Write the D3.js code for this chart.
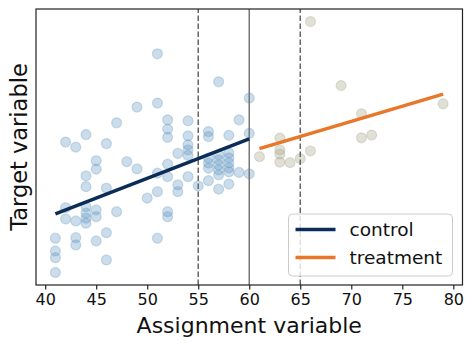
<!DOCTYPE html>
<html>
<head>
<meta charset="utf-8">
<script src="https://cdn.jsdelivr.net/npm/d3@7"></script>
<style>
  html, body { margin: 0; padding: 0; background: #fff; }
  svg { display: block; font-family: "DejaVu Sans", sans-serif; }
</style>
</head>
<body>
<svg id="chart" width="474" height="348"></svg>
<script>
// Assignment variable (x) and target variable (y) for units below the cutoff
const controlX = [
  41, 41, 41, 41,
  42, 42, 42,
  43, 43, 43, 43,
  44, 44, 44, 44, 44, 44, 44,
  45, 45, 45, 45, 45,
  46, 46, 46, 46,
  47, 47,
  48,
  49, 49,
  50,
  51, 51, 51, 51, 51,
  52, 52, 52, 52, 52, 52, 52,
  53, 53, 53,
  54, 54, 54, 54, 54, 54,
  55,
  56, 56, 56, 56, 56, 56,
  57, 57, 57, 57, 57, 57, 57,
  58, 58, 58, 58, 58, 58, 58,
  59, 59,
  60, 60, 60
];
const controlY = [
  13.7, 8.6, 5.9, 0.0,
  52.1, 25.9, 21.4,
  50.1, 20.6, 13.9, 11.0,
  55.1, 38.6, 34.3, 26.3, 23.7, 21.7, 19.7,
  44.7, 41.3, 25.0, 22.3, 12.6,
  51.5, 33.7, 15.9, 5.0,
  59.8, 24.3,
  44.3,
  66.1, 41.4,
  29.7,
  87.4, 67.7, 39.7, 32.3, 13.7,
  61.0, 57.3, 54.0, 43.3, 38.3, 24.3, 22.3,
  47.6, 35.0, 32.3,
  60.6, 54.6, 51.0, 49.0, 46.8, 38.3,
  34.6,
  56.3, 54.3, 45.7, 43.7, 41.7, 36.7,
  76.2, 47.0, 45.0, 43.0, 41.0, 39.0, 33.3,
  54.8, 47.8, 45.8, 43.8, 41.8, 40.2, 35.3,
  61.0, 40.0,
  69.7, 55.6, 39.4
];

// Units at or above the cutoff
const treatX = [61, 63, 63, 63, 63, 64, 65, 66, 66, 69, 71, 71, 72, 79];
const treatY = [46.3, 53.7, 49.0, 47.3, 44.1, 43.9, 45.5, 100.3, 48.6, 74.7, 63.4, 53.8, 54.9, 67.4];

// Fitted regression lines (endpoints on each side)
const controlFitX = [41, 60];
const controlFitY = [23.4, 53.4];
const treatFitX = [61, 79];
const treatFitY = [49.5, 71.3];

// Reference lines: bandwidth edges and cutoff
const bandX = [55, 65];
const cutoffX = [60];

const xTicks = [40, 45, 50, 55, 60, 65, 70, 75, 80];
const seriesNames = ["control", "treatment"];

const W = 474, H = 348;
const margin = { left: 36, right: 11.5, top: 9, bottom: 63 };

const svg = d3.select("#chart");

// Padded extents (5% on each side)
function padded(values) {
  const [lo, hi] = d3.extent(values);
  const p = (hi - lo) * 0.05;
  return [lo - p, hi + p];
}

const x = d3.scaleLinear()
  .domain(padded(controlX.concat(treatX)))
  .range([margin.left, W - margin.right]);
const y = d3.scaleLinear()
  .domain(padded(controlY.concat(treatY)))
  .range([H - margin.bottom, margin.top]);

const plot = svg.append("g");

// Scatter points
const controlPts = controlX.map((v, i) => ({ x: v, y: controlY[i] }));
const treatPts = treatX.map((v, i) => ({ x: v, y: treatY[i] }));

function drawPoints(data, color) {
  plot.append("g").selectAll("circle")
    .data(data)
    .join("circle")
    .attr("cx", d => x(d.x))
    .attr("cy", d => y(d.y))
    .attr("r", 5)
    .attr("fill", color)
    .attr("fill-opacity", 0.32)
    .attr("stroke", color)
    .attr("stroke-opacity", 0.28)
    .attr("stroke-width", 1.2);
}
drawPoints(controlPts, "#5d93c0");
drawPoints(treatPts, "#a39e84");

// Vertical reference lines
const [y0, y1] = y.range();
plot.append("g").selectAll("line")
  .data(bandX)
  .join("line")
  .attr("x1", d => x(d)).attr("x2", d => x(d))
  .attr("y1", y0).attr("y2", y1)
  .attr("stroke", "#666")
  .attr("stroke-width", 1.5)
  .attr("stroke-dasharray", "5.5,2.5");
plot.append("g").selectAll("line")
  .data(cutoffX)
  .join("line")
  .attr("x1", d => x(d)).attr("x2", d => x(d))
  .attr("y1", y0).attr("y2", y1)
  .attr("stroke", "#777")
  .attr("stroke-width", 1.5);

// Fitted lines
const line = d3.line().x(d => x(d[0])).y(d => y(d[1]));
const fitColors = ["#0a2d57", "#e8772a"];
plot.append("path")
  .datum(controlFitX.map((v, i) => [v, controlFitY[i]]))
  .attr("d", line)
  .attr("fill", "none")
  .attr("stroke", fitColors[0])
  .attr("stroke-width", 3.5);
plot.append("path")
  .datum(treatFitX.map((v, i) => [v, treatFitY[i]]))
  .attr("d", line)
  .attr("fill", "none")
  .attr("stroke", fitColors[1])
  .attr("stroke-width", 3.5);

// Frame
svg.append("rect")
  .attr("x", margin.left).attr("y", margin.top)
  .attr("width", W - margin.left - margin.right)
  .attr("height", H - margin.top - margin.bottom)
  .attr("fill", "none")
  .attr("stroke", "#222")
  .attr("stroke-width", 1.2);

// X axis
const xAxis = svg.append("g")
  .attr("transform", `translate(0,${H - margin.bottom})`)
  .call(d3.axisBottom(x).tickValues(xTicks).tickSize(4.5).tickPadding(4));
xAxis.select(".domain").remove();
xAxis.selectAll(".tick line").attr("stroke", "#222").attr("stroke-width", 1.2);
xAxis.selectAll(".tick text")
  .attr("font-size", 16)
  .attr("font-family", "DejaVu Sans")
  .attr("fill", "#111");

// Axis titles
svg.append("text")
  .attr("x", (margin.left + W - margin.right) / 2)
  .attr("y", 333)
  .attr("text-anchor", "middle")
  .attr("font-size", 22)
  .attr("fill", "#111")
  .text("Assignment variable");
svg.append("text")
  .attr("transform", `translate(27,${(margin.top + H - margin.bottom) / 2}) rotate(-90)`)
  .attr("text-anchor", "middle")
  .attr("font-size", 22.5)
  .attr("fill", "#111")
  .text("Target variable");

// Legend
const legend = svg.append("g").attr("transform", "translate(288.5,214)");
legend.append("rect")
  .attr("width", 164).attr("height", 62)
  .attr("rx", 4)
  .attr("fill", "#fff").attr("fill-opacity", 0.8)
  .attr("stroke", "#ccc").attr("stroke-width", 1);
seriesNames.forEach((name, i) => {
  const ly = 15.5 + i * 28;
  legend.append("line")
    .attr("x1", 7).attr("x2", 47)
    .attr("y1", ly).attr("y2", ly)
    .attr("stroke", fitColors[i])
    .attr("stroke-width", 3.5);
  legend.append("text")
    .attr("x", 61).attr("y", ly)
    .attr("dy", "0.35em")
    .attr("font-size", 18.5)
    .attr("fill", "#111")
    .text(name);
});
</script>
</body>
</html>
